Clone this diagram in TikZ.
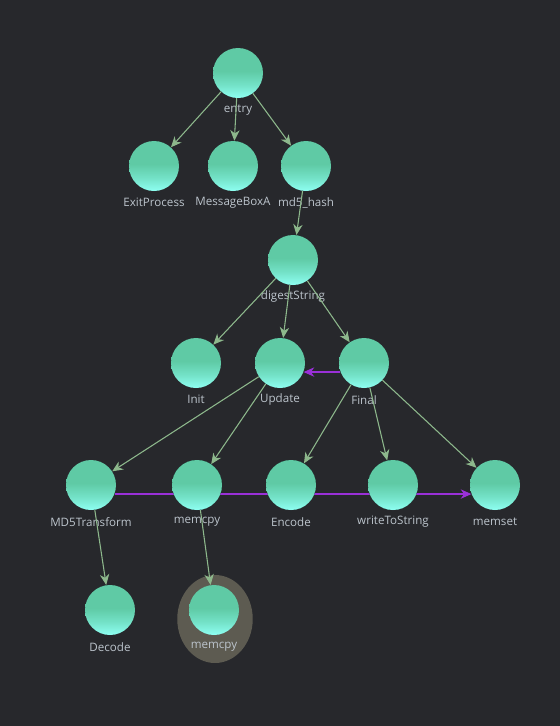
\documentclass[tikz,border=0pt]{standalone}
\usepackage{fontspec}
\setmainfont{Open Sans}
\usetikzlibrary{arrows.meta}
\definecolor{bg}{HTML}{27282C}
\definecolor{ntop}{HTML}{5FCAA5}
\definecolor{nmid}{HTML}{74E2C8}
\definecolor{nbot}{HTML}{8EFFF2}
\definecolor{edgegreen}{HTML}{8DB88C}
\definecolor{edgepurple}{HTML}{9A30D8}
\definecolor{labgray}{HTML}{BCC4CC}
\definecolor{hilite}{HTML}{5D5B51}
\pgfdeclareverticalshading{nodeshade}{100bp}{color(0bp)=(nbot); color(25bp)=(nbot); color(38bp)=(nmid); color(52bp)=(ntop); color(100bp)=(ntop)}
\begin{document}
\begin{tikzpicture}[x=0.75pt,y=-0.75pt,
  fn/.style={circle, minimum size=37.5pt, inner sep=0pt, draw=none, shading=nodeshade},
  lab/.style={anchor=center, yshift=-8.6pt, text=labgray, font=\fontsize{8.7pt}{10pt}\selectfont, inner sep=0pt},
  edge/.style={draw=edgegreen, line width=0.8pt, -{Stealth[length=8pt,width=7pt,inset=2.5pt]}},
  pedge/.style={draw=edgepurple, line width=0.9pt, -{Stealth[length=8pt,width=7pt,inset=2.5pt]}}]
\fill[bg] (0,0) rectangle (560,726);
\useasboundingbox (0,0) rectangle (560,726);
\fill[hilite] (215,619) ellipse [x radius=28.3pt, y radius=33pt];
% nodes
\node[fn, label={[lab]below:entry}] (entry) at (238,73) {};
\node[fn, label={[lab]below:ExitProcess}] (exit) at (154,166) {};
\node[fn, label={[lab]below:MessageBoxA}] (msgbox) at (233,166) {};
\node[fn, label={[lab]below:md5\_hash}] (md5hash) at (306,166) {};
\node[fn, label={[lab]below:digestString}] (digest) at (293,260) {};
\node[fn, label={[lab]below:Init}] (init) at (196,363) {};
\node[fn, label={[lab]below:Update}] (update) at (280,363) {};
\node[fn, label={[lab]below:Final}] (final) at (364,363) {};
\node[fn, label={[lab]below:MD5Transform}] (md5t) at (91,485) {};
\node[fn, label={[lab]below:memcpy}] (memcpy) at (197,485) {};
\node[fn, label={[lab]below:Encode}] (encode) at (291,485) {};
\node[fn, label={[lab]below:writeToString}] (wts) at (393,485) {};
\node[fn, label={[lab]below:memset}] (memset) at (495,485) {};
\node[fn, label={[lab]below:Decode}] (decode) at (110,610) {};
\node[fn, label={[lab]below:memcpy}] (memcpyb) at (214,610) {};
% edges
\draw[pedge] (md5t.-21) -- (memset.201);
\draw[pedge] (final.201) -- (update.-21);
\draw[edge] (entry) -- (exit);
\draw[edge] (entry) -- (msgbox);
\draw[edge] (entry) -- (md5hash);
\draw[edge] (md5hash) -- (digest);
\draw[edge] (digest) -- (init);
\draw[edge] (digest) -- (update);
\draw[edge] (digest) -- (final);
\draw[edge] (update) -- (md5t);
\draw[edge] (update) -- (memcpy);
\draw[edge] (final) -- (encode);
\draw[edge] (final) -- (wts);
\draw[edge] (final) -- (memset);
\draw[edge] (md5t) -- (decode);
\draw[edge] (memcpy) -- (memcpyb);
% redraw nodes over purple line
\foreach \n in {memcpy,encode,wts}{\fill[shading=nodeshade] (\n) circle [radius=18.75pt];}
\end{tikzpicture}
\end{document}
